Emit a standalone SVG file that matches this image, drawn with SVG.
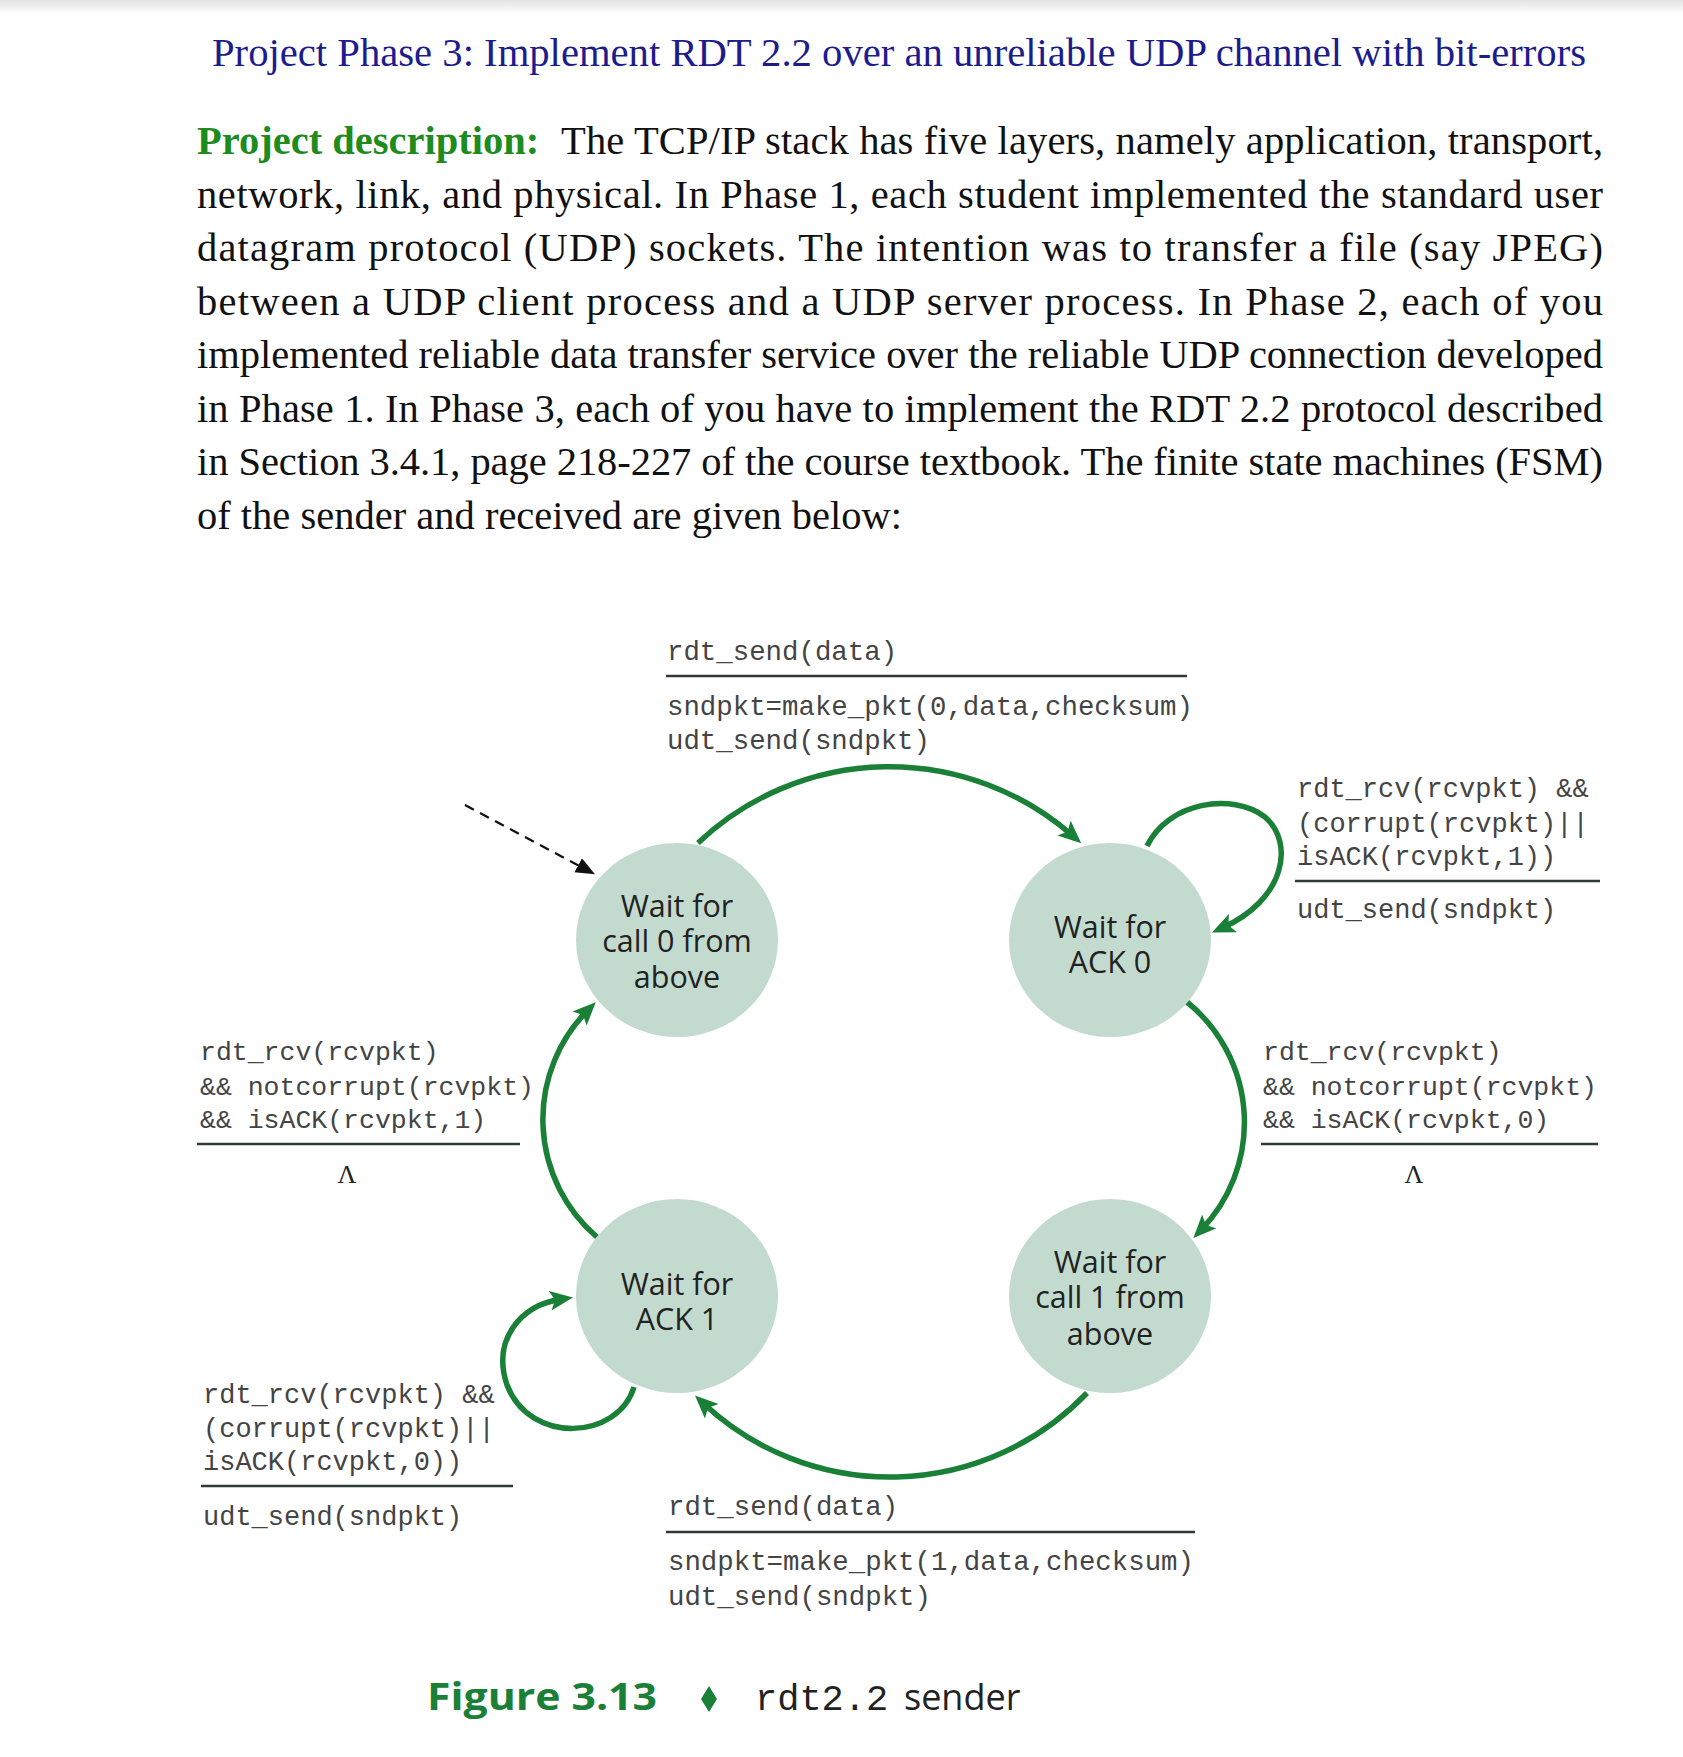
<svg xmlns="http://www.w3.org/2000/svg" width="1683" height="1757" viewBox="0 0 1683 1757">
<defs>
<linearGradient id="topShade" x1="0" y1="0" x2="0" y2="1">
<stop offset="0" stop-color="#e2e2e2"/>
<stop offset="1" stop-color="#ffffff"/>
</linearGradient>
<marker id="arrowG" markerUnits="userSpaceOnUse" markerWidth="26" markerHeight="22" refX="12" refY="10" orient="auto">
<path d="M0,0 L23,10 L0,20 L5,10 z" fill="#1a7f37"/>
</marker>
<marker id="arrowK" markerUnits="userSpaceOnUse" markerWidth="22" markerHeight="18" refX="10" refY="8" orient="auto">
<path d="M0,0 L19,8 L0,16 z" fill="#111"/>
</marker>
</defs>
<style>
.title{font-family:"Liberation Serif","Times New Roman",serif;font-size:40px;fill:#1c1c8c}
.para{font-family:"Liberation Serif","Times New Roman",serif;font-size:40.5px;fill:#111}
.lead{font-weight:bold;fill:#1d8b1d}
.node ellipse{fill:#c3dbcf}
.node text{font-family:"Open Sans","Noto Sans",sans-serif;font-size:30.5px;fill:#222;text-anchor:middle}
.lbl{font-family:"Liberation Mono","Courier New",monospace;fill:#444}
.bar{stroke:#2f3b37;stroke-width:2.6}
.lam{font-family:"Liberation Serif","Times New Roman",serif;font-size:26px;fill:#222;text-anchor:middle}
.edge{fill:none;stroke:#1a7f37;stroke-width:5.5;marker-end:url(#arrowG)}
.init{fill:none;stroke:#111;stroke-width:2.2;stroke-dasharray:10 7;marker-end:url(#arrowK)}
.fig{font-family:"Open Sans","Noto Sans",sans-serif;font-weight:bold;font-size:37px;fill:#1a8038}
</style>
<rect x="0" y="0" width="1683" height="1757" fill="#ffffff"/>
<rect x="0" y="0" width="1683" height="14" fill="url(#topShade)"/>

<g id="title">
<text class="title" x="212" y="66" textLength="1374" lengthAdjust="spacingAndGlyphs">Project Phase 3: Implement RDT 2.2 over an unreliable UDP channel with bit-errors</text>
</g>

<g id="description">
<text class="para lead" x="197" y="154">Project description:</text>
<text class="para" x="561" y="154" textLength="1042" lengthAdjust="spacing">The TCP/IP stack has five layers, namely application, transport,</text>
<text class="para" x="197" y="208" textLength="1406" lengthAdjust="spacing">network, link, and physical. In Phase 1, each student implemented the standard user</text>
<text class="para" x="197" y="261" textLength="1406" lengthAdjust="spacing">datagram protocol (UDP) sockets. The intention was to transfer a file (say JPEG)</text>
<text class="para" x="197" y="315" textLength="1406" lengthAdjust="spacing">between a UDP client process and a UDP server process. In Phase 2, each of you</text>
<text class="para" x="197" y="368" textLength="1406" lengthAdjust="spacing">implemented reliable data transfer service over the reliable UDP connection developed</text>
<text class="para" x="197" y="422" textLength="1406" lengthAdjust="spacing">in Phase 1. In Phase 3, each of you have to implement the RDT 2.2 protocol described</text>
<text class="para" x="197" y="475" textLength="1406" lengthAdjust="spacing">in Section 3.4.1, page 218-227 of the course textbook. The finite state machines (FSM)</text>
<text class="para" x="197" y="529">of the sender and received are given below:</text>
</g>

<g id="connectors">
<path id="e-init" class="init" d="M465,805 L587,870"/>
<path id="e-call0-ack0" class="edge" d="M698,843 A278,278 0 0 1 1073,836"/>
<path id="e-ack0-self" class="edge" d="M1147,846 C1168,802 1232,792 1265,817 C1295,843 1285,900 1222,928"/>
<path id="e-ack0-call1" class="edge" d="M1187,1002 A155,155 0 0 1 1201,1230"/>
<path id="e-call1-ack1" class="edge" d="M1087,1393 A273,273 0 0 1 703,1403"/>
<path id="e-ack1-self" class="edge" d="M634,1387 C618,1440 530,1445 507,1385 C492,1340 520,1305 562,1299"/>
<path id="e-ack1-call0" class="edge" d="M597,1237 A155,155 0 0 1 588,1010"/>
</g>

<g id="node-call0" class="node">
<ellipse cx="677" cy="940" rx="101" ry="97"/>
<text x="677" y="917">Wait for</text>
<text x="677" y="952">call 0 from</text>
<text x="677" y="988">above</text>
</g>
<g id="node-ack0" class="node">
<ellipse cx="1110" cy="940" rx="101" ry="97"/>
<text x="1110" y="938">Wait for</text>
<text x="1110" y="973">ACK 0</text>
</g>
<g id="node-ack1" class="node">
<ellipse cx="677" cy="1296" rx="101" ry="97"/>
<text x="677" y="1295">Wait for</text>
<text x="677" y="1330">ACK 1</text>
</g>
<g id="node-call1" class="node">
<ellipse cx="1110" cy="1296" rx="101" ry="97"/>
<text x="1110" y="1273">Wait for</text>
<text x="1110" y="1308">call 1 from</text>
<text x="1110" y="1345">above</text>
</g>

<g id="label-top">
<text class="lbl" x="667" y="660" font-size="27.4">rdt_send(data)</text>
<line class="bar" x1="666" y1="676" x2="1187" y2="676"/>
<text class="lbl" x="667" y="715" font-size="27.4">sndpkt=make_pkt(0,data,checksum)</text>
<text class="lbl" x="667" y="749" font-size="27.4">udt_send(sndpkt)</text>
</g>

<g id="label-ack0-self">
<text class="lbl" x="1297" y="797" font-size="27">rdt_rcv(rcvpkt) &amp;&amp;</text>
<text class="lbl" x="1297" y="832" font-size="27">(corrupt(rcvpkt)||</text>
<text class="lbl" x="1297" y="865" font-size="27">isACK(rcvpkt,1))</text>
<line class="bar" x1="1295" y1="881" x2="1600" y2="881"/>
<text class="lbl" x="1297" y="918" font-size="27">udt_send(sndpkt)</text>
</g>

<g id="label-left">
<text class="lbl" x="200" y="1060" font-size="26.5">rdt_rcv(rcvpkt)</text>
<text class="lbl" x="200" y="1095" font-size="26.5">&amp;&amp; notcorrupt(rcvpkt)</text>
<text class="lbl" x="200" y="1128" font-size="26.5">&amp;&amp; isACK(rcvpkt,1)</text>
<line class="bar" x1="197" y1="1144" x2="520" y2="1144"/>
<text class="lam" x="347" y="1183">Λ</text>
</g>

<g id="label-right">
<text class="lbl" x="1263" y="1060" font-size="26.5">rdt_rcv(rcvpkt)</text>
<text class="lbl" x="1263" y="1095" font-size="26.5">&amp;&amp; notcorrupt(rcvpkt)</text>
<text class="lbl" x="1263" y="1128" font-size="26.5">&amp;&amp; isACK(rcvpkt,0)</text>
<line class="bar" x1="1261" y1="1144" x2="1598" y2="1144"/>
<text class="lam" x="1414" y="1183">Λ</text>
</g>

<g id="label-ack1-self">
<text class="lbl" x="203" y="1403" font-size="27">rdt_rcv(rcvpkt) &amp;&amp;</text>
<text class="lbl" x="203" y="1437" font-size="27">(corrupt(rcvpkt)||</text>
<text class="lbl" x="203" y="1470" font-size="27">isACK(rcvpkt,0))</text>
<line class="bar" x1="201" y1="1486" x2="513" y2="1486"/>
<text class="lbl" x="203" y="1525" font-size="27">udt_send(sndpkt)</text>
</g>

<g id="label-bottom">
<text class="lbl" x="668" y="1515" font-size="27.4">rdt_send(data)</text>
<line class="bar" x1="666" y1="1532" x2="1195" y2="1532"/>
<text class="lbl" x="668" y="1570" font-size="27.4">sndpkt=make_pkt(1,data,checksum)</text>
<text class="lbl" x="668" y="1605" font-size="27.4">udt_send(sndpkt)</text>
</g>

<g id="caption">
<text class="fig" x="427" y="1710" textLength="230" lengthAdjust="spacingAndGlyphs">Figure 3.13</text>
<path d="M709,1686 L717,1699 L709,1712 L701,1699 z" fill="#1a8038"/>
<text x="755" y="1710" font-family="Liberation Mono, Courier New, monospace" font-size="37" fill="#222">rdt2.2</text>
<text x="904" y="1710" font-family="Open Sans, Noto Sans, sans-serif" font-size="36" fill="#222">sender</text>
</g>
</svg>
